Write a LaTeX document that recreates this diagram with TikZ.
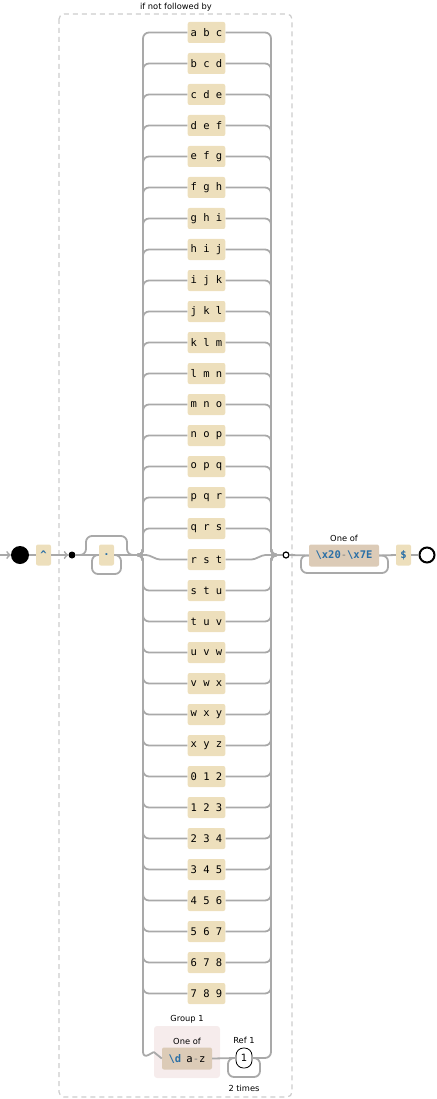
\documentclass[tikz,border=0pt]{standalone}
\usepackage{fontspec}
\setmainfont{DejaVu Sans}
\setmonofont{DejaVu Sans Mono}
\usepackage{tikz}
\usepackage{xcolor}

\definecolor{railgray}{HTML}{A9A9A9}
\definecolor{dashgray}{HTML}{CCCCCC}
\definecolor{litfill}{HTML}{EDDFBC}
\definecolor{setfill}{HTML}{DCCBB7}
\definecolor{grpfill}{HTML}{F6ECEC}
\definecolor{escblue}{HTML}{2A6FA6}

\begin{document}
\begin{tikzpicture}[x=1pt,y=-1pt,
  line/.style={draw=railgray,line width=1.8pt,rounded corners=6pt},
  lit/.style={fill=litfill,rounded corners=2pt,minimum height=21pt,minimum width=15pt,
    inner xsep=3pt,inner ysep=0pt,font=\ttfamily\fontsize{10.5}{10.5}\selectfont},
  charset/.style={lit,fill=setfill,minimum height=22pt},
  label/.style={font=\fontsize{8.3}{9}\selectfont,inner sep=0pt}]
\useasboundingbox (0,0) rectangle (436,1099);

% lookahead box
\draw[dashgray,line width=1.2pt,dash pattern=on 5pt off 4pt,rounded corners=5pt] (59,14) rectangle (292,1097);
\node[label] (ahead) at (176,7) {if not followed by};

% start and anchor
\coordinate (in) at (0,555);
\node[circle,fill=black,minimum size=18pt,inner sep=0pt] (start) at (20,555) {};
\node[lit,text=escblue,font=\ttfamily\bfseries\fontsize{10.5}{10.5}\selectfont] (caret) at (43.5,555) {\^{}};
\node[circle,fill=black,minimum size=7pt,inner sep=0pt] (dot) at (72,555) {};
\draw[line,->] (in) -- (start.west);
\draw[line] (start.east) -- (caret.west);
\draw[line,->] (caret.east) -- (dot.west);

% any char, zero or more
\node[lit,text=escblue,font=\ttfamily\bfseries\fontsize{10.5}{10.5}\selectfont] (anychar) at (106.5,555) {.};
\coordinate (split) at (130,555);
\draw[line] (dot.east) -- (anychar.west);
\draw[line] (anychar.east) -- (split);
\draw[line] (dot.east) -| (86,536) -| (127,555) -- (split);
\draw[line] (anychar.east) -| (121,574) -| (92,555) -- (anychar.west);

% alternatives
\coordinate (join) at (281,555);
\foreach \t [count=\i] in {a b c,b c d,c d e,d e f,e f g,f g h,g h i,h i j,i j k,j k l,
    k l m,l m n,m n o,n o p,o p q,p q r,q r s,r s t,s t u,t u v,u v w,v w x,w x y,x y z,
    0 1 2,1 2 3,2 3 4,3 4 5,4 5 6,5 6 7,6 7 8,7 8 9}{
  \pgfmathsetmacro{\ry}{32.5+31*(\i-1)}
  \node[lit,minimum width=36pt] (r\i) at (206.5,\ry) {\t};
  \ifnum\i=18
    \draw[line] (split) -- ++(10,0) to[out=0,in=180] ++(26,4.5) -- (r\i.west);
    \draw[line] (r\i.east) -- ++(20,0) to[out=0,in=180] ++(26,-4.5) -- (join);
  \else
    \draw[line] (split) -| (143,\ry) -- (r\i.west);
    \draw[line] (r\i.east) -| (271,555) -- (join);
  \fi
}

% group 1 and back reference
\node[fill=grpfill,rounded corners=3pt,minimum width=66pt,minimum height=52pt] (grp) at (187,1052) {};
\node[label] (grplabel) at (187,1019) {Group 1};
\node[label] (oneof2) at (187,1041) {One of};
\node[charset,minimum width=50pt] (digits) at (187,1058.5) {\textcolor{escblue}{\textbf{\textbackslash d}}\enspace a\textcolor{gray}{-}z};
\node[draw=black,line width=0.8pt,fill=white,rounded corners=7.5pt,minimum width=16pt,minimum height=20pt,
  inner sep=0pt,font=\fontsize{10}{10}\selectfont] (ref) at (244,1058) {1};
\node[label] (reflabel) at (244,1040) {Ref 1};
\node[label] (times) at (244,1088) {2 times};
\draw[line] (split) -| (143,1058) -- (grp.west);
\draw[line] (grp.west) -- (digits.west);
\draw[line] (digits.east) -- (ref.west);
\draw[line] (ref.east) -| (260,1077) -| (228,1058) -- (ref.west);
\draw[line] (ref.east) -| (271,555) -- (join);

% printable chars, one or more, then end
\node[circle,draw=black,line width=1.2pt,fill=white,minimum size=6pt,inner sep=0pt] (joined) at (286,555) {};
\node[charset,minimum width=70pt] (printable) at (344,555.5) {\textcolor{escblue}{\textbf{\textbackslash x20}}\textcolor{gray}{-}\textcolor{escblue}{\textbf{\textbackslash x7E}}};
\node[label] (oneof1) at (344,538) {One of};
\node[lit,text=escblue,font=\ttfamily\bfseries\fontsize{10.5}{10.5}\selectfont] (dollar) at (403.5,555) {\$};
\node[circle,draw=black,line width=2pt,fill=white,minimum size=15pt,inner sep=0pt] (finish) at (427,555) {};
\draw[line] (join) -- (joined.west);
\draw[line] (joined.east) -- (printable.west);
\draw[line] (printable.east) -| (388,573) -| (301,555) -- (printable.west);
\draw[line] (printable.east) -- (dollar.west);
\draw[line] (dollar.east) -- (finish.west);
\end{tikzpicture}
\end{document}
